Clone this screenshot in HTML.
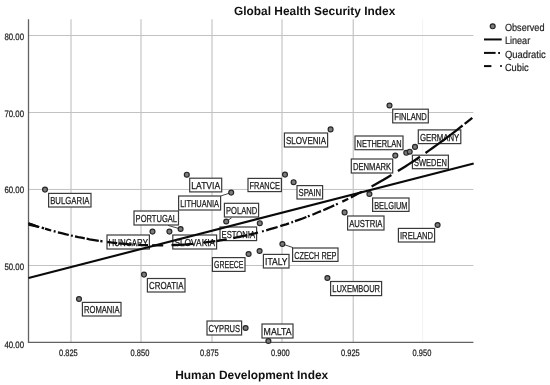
<!DOCTYPE html>
<html lang="en"><head><meta charset="utf-8"><title>Global Health Security Index</title>
<style>html,body{margin:0;padding:0;background:#fff}svg{display:block}</style></head>
<body>
<svg width="550" height="385" viewBox="0 0 550 385" font-family='"Liberation Sans", Arial, sans-serif' text-rendering="geometricPrecision">
<rect width="550" height="385" fill="#fff"/>
<g stroke="#b9b9b9" stroke-width="1" fill="none">
<line x1="71.0" y1="19.3" x2="71.0" y2="342.45"/>
<line x1="141.0" y1="19.3" x2="141.0" y2="342.45"/>
<line x1="212.0" y1="19.3" x2="212.0" y2="342.45"/>
<line x1="282.0" y1="19.3" x2="282.0" y2="342.45"/>
<line x1="353.2" y1="19.3" x2="353.2" y2="342.45"/>
<line x1="422.6" y1="19.3" x2="422.6" y2="342.45" stroke="#f3f3f3"/>
<line x1="28.5" y1="35.5" x2="473.4" y2="35.5" stroke="#c2c2c2"/>
<line x1="28.5" y1="112.5" x2="473.4" y2="112.5" stroke="#c2c2c2"/>
<line x1="28.5" y1="189.45" x2="473.4" y2="189.45" stroke="#c2c2c2"/>
<line x1="28.5" y1="265.5" x2="473.4" y2="265.5" stroke="#c2c2c2"/>
</g>
<path d="M28.5 19.3V342.45H473.4" stroke="#626262" stroke-width="1.3" fill="none"/>
<g font-size="9.4" fill="#222" stroke="#222" stroke-width="0.25">
<text x="4.4" y="40.2" textLength="19.6" lengthAdjust="spacingAndGlyphs">80.00</text>
<text x="4.4" y="117.1" textLength="19.6" lengthAdjust="spacingAndGlyphs">70.00</text>
<text x="4.4" y="193.4" textLength="19.6" lengthAdjust="spacingAndGlyphs">60.00</text>
<text x="4.4" y="270.0" textLength="19.6" lengthAdjust="spacingAndGlyphs">50.00</text>
<text x="4.4" y="347.8" textLength="19.6" lengthAdjust="spacingAndGlyphs">40.00</text>
<text x="59.0" y="355.8" textLength="18.7" lengthAdjust="spacingAndGlyphs">0.825</text>
<text x="130.6" y="355.8" textLength="18.7" lengthAdjust="spacingAndGlyphs">0.850</text>
<text x="200.0" y="355.8" textLength="18.7" lengthAdjust="spacingAndGlyphs">0.875</text>
<text x="271.0" y="355.8" textLength="18.7" lengthAdjust="spacingAndGlyphs">0.900</text>
<text x="341.0" y="355.8" textLength="18.7" lengthAdjust="spacingAndGlyphs">0.925</text>
<text x="412.6" y="355.8" textLength="18.7" lengthAdjust="spacingAndGlyphs">0.950</text>
</g>
<text x="234" y="15.2" font-size="12" font-weight="bold" fill="#111" textLength="161.3" lengthAdjust="spacingAndGlyphs">Global Health Security Index</text>
<text x="175.2" y="379.2" font-size="12" font-weight="bold" fill="#111" textLength="153" lengthAdjust="spacingAndGlyphs">Human Development Index</text>
<g stroke="#444" stroke-width="1">
<line x1="231.2" y1="192.6" x2="221" y2="195.9"/>
<line x1="180.6" y1="229" x2="168" y2="225.4"/>
<line x1="226.2" y1="221.5" x2="231.6" y2="217.8"/>
<line x1="282.4" y1="244" x2="293" y2="247.6"/>
</g>
<g font-size="10.1" fill="#1a1a1a" stroke="#1a1a1a" stroke-width="0.25">
<rect x="48.6" y="193.4" width="42.4" height="13.6" fill="#fff" stroke="#3a3a3a" stroke-width="1.2"/>
<text x="50.2" y="204.0" textLength="39.3" lengthAdjust="spacingAndGlyphs">BULGARIA</text>
<rect x="82.4" y="302.4" width="38.6" height="13.6" fill="#fff" stroke="#3a3a3a" stroke-width="1.2"/>
<text x="84.0" y="313.0" textLength="35.5" lengthAdjust="spacingAndGlyphs">ROMANIA</text>
<rect x="147.4" y="278.5" width="37.6" height="13.5" fill="#fff" stroke="#3a3a3a" stroke-width="1.2"/>
<text x="149.0" y="289.1" textLength="34.5" lengthAdjust="spacingAndGlyphs">CROATIA</text>
<rect x="107" y="235" width="42.4" height="14.0" fill="#fff" stroke="#3a3a3a" stroke-width="1.2"/>
<text x="108.6" y="245.6" textLength="39.3" lengthAdjust="spacingAndGlyphs">HUNGARY</text>
<rect x="172.8" y="235" width="43.8" height="14.0" fill="#fff" stroke="#3a3a3a" stroke-width="1.2"/>
<text x="174.4" y="245.6" textLength="40.7" lengthAdjust="spacingAndGlyphs">SLOVAKIA</text>
<rect x="134" y="211" width="44.5" height="14.0" fill="#fff" stroke="#3a3a3a" stroke-width="1.2"/>
<text x="135.6" y="221.6" textLength="41.4" lengthAdjust="spacingAndGlyphs">PORTUGAL</text>
<rect x="189.7" y="178.2" width="32.0" height="13.7" fill="#fff" stroke="#3a3a3a" stroke-width="1.2"/>
<text x="191.3" y="188.8" textLength="28.9" lengthAdjust="spacingAndGlyphs">LATVIA</text>
<rect x="178.6" y="196" width="42.0" height="14.0" fill="#fff" stroke="#3a3a3a" stroke-width="1.2"/>
<text x="180.2" y="206.6" textLength="38.9" lengthAdjust="spacingAndGlyphs">LITHUANIA</text>
<rect x="224.4" y="203.3" width="34.2" height="13.7" fill="#fff" stroke="#3a3a3a" stroke-width="1.2"/>
<text x="226.0" y="213.9" textLength="31.1" lengthAdjust="spacingAndGlyphs">POLAND</text>
<rect x="220" y="227" width="36.6" height="13.6" fill="#fff" stroke="#3a3a3a" stroke-width="1.2"/>
<text x="221.6" y="237.6" textLength="33.5" lengthAdjust="spacingAndGlyphs">ESTONIA</text>
<rect x="212.4" y="257.6" width="32.6" height="13.8" fill="#fff" stroke="#3a3a3a" stroke-width="1.2"/>
<text x="214.0" y="268.2" textLength="29.5" lengthAdjust="spacingAndGlyphs">GREECE</text>
<rect x="263.4" y="254.4" width="25.6" height="13.6" fill="#fff" stroke="#3a3a3a" stroke-width="1.2"/>
<text x="265.0" y="265.0" textLength="22.5" lengthAdjust="spacingAndGlyphs">ITALY</text>
<rect x="207" y="321" width="34.6" height="14.0" fill="#fff" stroke="#3a3a3a" stroke-width="1.2"/>
<text x="208.6" y="331.6" textLength="31.5" lengthAdjust="spacingAndGlyphs">CYPRUS</text>
<rect x="262" y="324" width="31.0" height="14.0" fill="#fff" stroke="#3a3a3a" stroke-width="1.2"/>
<text x="263.6" y="334.6" textLength="27.9" lengthAdjust="spacingAndGlyphs">MALTA</text>
<rect x="248" y="178.4" width="33.4" height="13.2" fill="#fff" stroke="#3a3a3a" stroke-width="1.2"/>
<text x="249.6" y="189.0" textLength="30.3" lengthAdjust="spacingAndGlyphs">FRANCE</text>
<rect x="297" y="185.6" width="25.6" height="13.4" fill="#fff" stroke="#3a3a3a" stroke-width="1.2"/>
<text x="298.6" y="196.2" textLength="22.5" lengthAdjust="spacingAndGlyphs">SPAIN</text>
<rect x="292.6" y="248" width="45.4" height="13.4" fill="#fff" stroke="#3a3a3a" stroke-width="1.2"/>
<text x="294.2" y="258.6" textLength="42.3" lengthAdjust="spacingAndGlyphs">CZECH REP</text>
<rect x="284.4" y="133" width="43.2" height="14.0" fill="#fff" stroke="#3a3a3a" stroke-width="1.2"/>
<text x="286.0" y="143.6" textLength="40.1" lengthAdjust="spacingAndGlyphs">SLOVENIA</text>
<rect x="330.6" y="281.5" width="51.0" height="14.1" fill="#fff" stroke="#3a3a3a" stroke-width="1.2"/>
<text x="332.2" y="292.1" textLength="47.9" lengthAdjust="spacingAndGlyphs">LUXEMBOUR</text>
<rect x="347.6" y="216" width="36.4" height="14.0" fill="#fff" stroke="#3a3a3a" stroke-width="1.2"/>
<text x="349.2" y="226.6" textLength="33.3" lengthAdjust="spacingAndGlyphs">AUSTRIA</text>
<rect x="372.6" y="198" width="36.4" height="13.4" fill="#fff" stroke="#3a3a3a" stroke-width="1.2"/>
<text x="374.2" y="208.6" textLength="33.3" lengthAdjust="spacingAndGlyphs">BELGIUM</text>
<rect x="351.3" y="159" width="41.4" height="14.0" fill="#fff" stroke="#3a3a3a" stroke-width="1.2"/>
<text x="352.9" y="169.6" textLength="38.3" lengthAdjust="spacingAndGlyphs">DENMARK</text>
<rect x="355" y="136" width="48.0" height="13.7" fill="#fff" stroke="#3a3a3a" stroke-width="1.2"/>
<text x="356.6" y="146.6" textLength="44.9" lengthAdjust="spacingAndGlyphs">NETHERLAN</text>
<rect x="412.4" y="155.2" width="36.0" height="13.5" fill="#fff" stroke="#3a3a3a" stroke-width="1.2"/>
<text x="414.0" y="165.8" textLength="32.9" lengthAdjust="spacingAndGlyphs">SWEDEN</text>
<rect x="418.3" y="129.9" width="42.5" height="13.7" fill="#fff" stroke="#3a3a3a" stroke-width="1.2"/>
<text x="419.9" y="140.5" textLength="39.4" lengthAdjust="spacingAndGlyphs">GERMANY</text>
<rect x="392.7" y="109.2" width="35.6" height="13.7" fill="#fff" stroke="#3a3a3a" stroke-width="1.2"/>
<text x="394.3" y="119.8" textLength="32.5" lengthAdjust="spacingAndGlyphs">FINLAND</text>
<rect x="398.4" y="228.4" width="36.2" height="13.6" fill="#fff" stroke="#3a3a3a" stroke-width="1.2"/>
<text x="400.0" y="239.0" textLength="33.1" lengthAdjust="spacingAndGlyphs">IRELAND</text>
</g>
<g fill="#7c7c7c" stroke="#262626" stroke-width="1.2">
<circle cx="45" cy="189.6" r="2.45"/>
<circle cx="79" cy="299" r="2.45"/>
<circle cx="144" cy="274.6" r="2.45"/>
<circle cx="152.5" cy="231.6" r="2.45"/>
<circle cx="169.4" cy="231.6" r="2.45"/>
<circle cx="180.6" cy="229" r="2.45"/>
<circle cx="186.8" cy="174.7" r="2.45"/>
<circle cx="231.2" cy="192.6" r="2.45"/>
<circle cx="226.2" cy="221.5" r="2.45"/>
<circle cx="259.8" cy="223.2" r="2.45"/>
<circle cx="248.6" cy="254" r="2.45"/>
<circle cx="259.6" cy="251" r="2.45"/>
<circle cx="245.6" cy="328" r="2.45"/>
<circle cx="268.4" cy="341" r="2.45"/>
<circle cx="285" cy="174.6" r="2.45"/>
<circle cx="293.6" cy="182.2" r="2.45"/>
<circle cx="282.4" cy="244" r="2.45"/>
<circle cx="330.6" cy="129.4" r="2.45"/>
<circle cx="327.4" cy="278" r="2.45"/>
<circle cx="344.6" cy="212.4" r="2.45"/>
<circle cx="369.4" cy="194" r="2.45"/>
<circle cx="395.3" cy="155.6" r="2.45"/>
<circle cx="406.3" cy="152.8" r="2.45"/>
<circle cx="409.7" cy="151.7" r="2.45"/>
<circle cx="415" cy="146.9" r="2.45"/>
<circle cx="389.5" cy="105.5" r="2.45"/>
<circle cx="437.6" cy="225" r="2.45"/>
</g>
<path d="M28.5 223.5L32.1 224.7L35.6 225.9L39.2 227.0M41.7 227.7L44.0 228.4M45.0 228.7L48.1 229.6L51.2 230.5M53.7 231.2L55.6 231.7M57.9 232.3L61.5 233.2L65.2 234.1L68.8 235.0M71.0 235.5L72.8 235.9M75.0 236.4L78.3 237.1L81.5 237.7L84.8 238.4M86.6 238.7L89.6 239.3L92.7 239.8L95.8 240.3L98.8 240.8M100.3 241.0L102.5 241.3M107.2 242.0L110.5 242.4L113.9 242.8L117.2 243.2M118.6 243.3L121.8 243.6L125.0 243.9L128.3 244.2L131.5 244.4M133.4 244.6L135.0 244.7M138.2 244.8L141.5 245.0L144.7 245.1L148.0 245.2M152.0 245.3L155.7 245.4L159.5 245.4L163.2 245.3M171.5 245.2L175.2 245.0L178.8 244.8L182.4 244.6L186.1 244.4L189.8 244.1L193.4 243.8M203.6 242.7L207.5 242.2L211.5 241.7L215.4 241.2M216.8 241.0L220.1 240.4L223.5 239.9L226.8 239.3M233.2 238.1L236.7 237.4L240.2 236.7L243.7 236.0L247.2 235.2M249.0 234.7L252.0 234.0L255.0 233.3L258.0 232.5M262.0 231.5L263.8 231.0M266.2 230.3L270.0 229.2L273.8 228.1L277.6 227.0M280.3 226.1L283.2 225.2L286.1 224.3L289.0 223.3M291.3 222.5L293.1 221.9M294.9 221.2L298.7 219.9L302.6 218.5L306.4 217.0M307.9 216.4L309.7 215.7M312.4 214.7L315.3 213.5L318.1 212.3L321.0 211.1M323.3 210.2L326.9 208.6L330.6 207.0L334.2 205.4M336.0 204.5L337.8 203.7M342.3 201.6L345.2 200.2L348.2 198.7M350.9 197.4L354.6 195.5L358.3 193.6L362.0 191.7M371.6 186.5L375.6 184.3L379.5 182.1L383.5 179.8L387.4 177.4L391.4 175.1M397.9 171.1L401.6 168.8L405.3 166.5L408.9 164.1L412.6 161.7L416.3 159.2L420.0 156.8M425.5 153.0L429.2 150.4L432.9 147.8L436.6 145.1L440.3 142.4L444.1 139.7L447.8 136.9L451.5 134.2L455.2 131.3L458.9 128.4L462.6 125.5M464.7 123.9L468.5 120.8L472.3 117.8" stroke="#0a0a0a" stroke-width="2.3" fill="none"/>
<path d="M28.5 223.1L39 226.9" stroke="#0a0a0a" stroke-width="1.6" fill="none"/><path d="M28.5 224.9L39 227.3" stroke="#0a0a0a" stroke-width="1.6" fill="none"/>
<line x1="28.5" y1="278.0" x2="473.7" y2="163.4" stroke="#0a0a0a" stroke-width="2.1"/>
<circle cx="492.7" cy="26.3" r="2.45" fill="#7c7c7c" stroke="#262626" stroke-width="1.2"/>
<g stroke="#0a0a0a" stroke-width="2">
<line x1="484" y1="39.45" x2="501.7" y2="39.45"/>
<line x1="484" y1="52.9" x2="495.6" y2="52.9"/><line x1="498.2" y1="52.9" x2="500" y2="52.9"/>
<line x1="484" y1="66.1" x2="491.4" y2="66.1"/><line x1="500.2" y1="66.1" x2="501.8" y2="66.1"/>
</g>
<g font-size="10.4" fill="#222" stroke="#222" stroke-width="0.2">
<text x="504.9" y="31.1" textLength="39.6" lengthAdjust="spacingAndGlyphs">Observed</text>
<text x="504.9" y="44.0" textLength="25.3" lengthAdjust="spacingAndGlyphs">Linear</text>
<text x="504.9" y="57.6" textLength="40.9" lengthAdjust="spacingAndGlyphs">Quadratic</text>
<text x="504.9" y="71.0" textLength="23.7" lengthAdjust="spacingAndGlyphs">Cubic</text>
</g>
</svg>
</body></html>
